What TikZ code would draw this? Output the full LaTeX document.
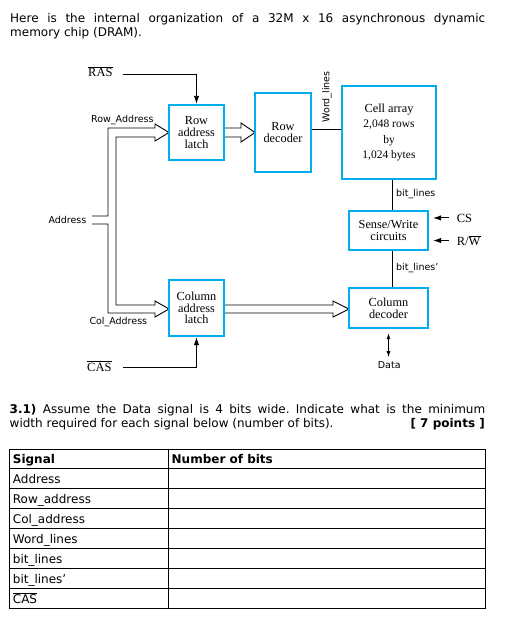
\documentclass[tikz,border=0pt]{standalone}
\usepackage{fontspec}
\setmainfont{DejaVu Sans}
\newfontfamily\serf{Liberation Serif}
\usetikzlibrary{arrows.meta,calc}
\definecolor{boxcyan}{RGB}{0,174,239}
\frenchspacing
\begin{document}
\begin{tikzpicture}[x=1pt,y=-1pt,
  blk/.style={draw=boxcyan,line width=2.4pt,fill=white,inner sep=0pt,align=center,font=\serf\fontsize{12.3}{11.7}\selectfont},
  lbl/.style={inner sep=0pt,font=\fontsize{9.5}{11}\selectfont},
  sig/.style={inner sep=0pt,font=\serf\fontsize{12.5}{14}\selectfont},
  body/.style={inner sep=0pt,font=\fontsize{12}{14}\selectfont},
  wire/.style={line width=0.9pt},
  arr/.style={wire,-{Latex[length=8pt,width=5.5pt]}},
  bus/.style={line width=0.9pt,line join=miter},
  grid/.style={line width=1.1pt}]
\useasboundingbox[fill=white] (0,0) rectangle (511,643);

% intro text
\node[body,anchor=base west] (t1) at (10,22) {\makebox[475pt][s]{Here is the internal organization of a 32M x 16 asynchronous dynamic}};
\node[body,anchor=base west] (t2) at (10,36) {memory chip (DRAM).};

% buses (drawn first)
\draw[bus] (92,216) -- (108,216) -- (108,128) -- (155,128) -- (155,124) -- (169,132.5) -- (155,141) -- (155,137) -- (116,137) -- (116,305) -- (155,305) -- (155,301) -- (169,309) -- (155,317) -- (155,313) -- (108,313) -- (108,224) -- (92,224);
\draw[bus] (224,128) -- (241,128) -- (241,123) -- (255,132.5) -- (241,142) -- (241,137) -- (224,137);
\draw[bus] (224,305) -- (333,305) -- (333,301) -- (349,309) -- (333,317) -- (333,313) -- (224,313);

% blocks
\node[blk,minimum width=55,minimum height=55] (rlatch) at (196.5,132.5) {Row\\address\\latch};
\node[blk,minimum width=56,minimum height=79] (rdec) at (283,132.5) {Row\\decoder};
\node[blk,minimum width=94,minimum height=93,font=\serf\fontsize{11.5}{15.5}\selectfont] (cell) at (389,132.5) {{\fontsize{12.3}{15.5}\selectfont Cell array}\\2,048 rows\\by\\1,024 bytes};
\node[blk,minimum width=79,minimum height=39] (sw) at (388.5,230.5) {Sense/Write\\circuits};
\node[blk,minimum width=79,minimum height=40] (cdec) at (388.5,308) {Column\\decoder};
\node[blk,minimum width=55,minimum height=56] (clatch) at (196.5,308) {Column\\address\\latch};

% labels
\node[sig,anchor=base west] (ras) at (88,76.7) {$\overline{\hbox{\serf RAS}}$};
\node[sig,anchor=base west] (cas) at (87,371) {$\overline{\hbox{\serf CAS}}$};
\node[lbl,anchor=base west] (rowa) at (91,122) {Row\_Address};
\node[lbl,anchor=base west] (addr) at (48.3,223) {Address};
\node[lbl,anchor=base west] (cola) at (89.3,324) {Col\_Address};
\node[lbl,rotate=90] (wl) at (327,97) {Word\_lines};
\node[lbl,anchor=base west] (bl) at (396,196) {bit\_lines};
\node[lbl,anchor=base west] (blp) at (396,270) {bit\_lines'};
\node[lbl,anchor=base west] (data) at (377.7,368) {Data};
\node[sig,anchor=base west] (cs) at (456.7,222) {CS};
\node[sig,anchor=base west] (rw) at (456.7,245.5) {R/$\overline{\hbox{\serf W}}$};

% control wires
\coordinate (rasc) at (123,74);
\coordinate (casc) at (123,367);
\draw[arr] (rasc) -| (rlatch.north);
\draw[arr] (casc) -| (clatch.south);
\draw[wire] ([yshift=3pt]rdec.east) -- ([yshift=3pt]rdec.east -| cell.west);
\draw[wire] ($(cell.south)+(3,0)$) -- ($(sw.north)+(3.5,0)$);
\draw[wire] ($(sw.south)+(3.5,0)$) -- ($(cdec.north)+(3.5,0)$);
\draw[arr] ($(cs.west)+(-8,0)$) -- ($(sw.east |- cs.west)+(4,0)$);
\draw[arr] ($(rw.west)+(-8,0)$) -- ($(sw.east |- rw.west)+(4,0)$);
\draw[wire,{Latex[length=6pt,width=4pt]}-{Latex[length=6pt,width=4pt]}] ($(cdec.south)+(0,4)$) -- ($(cdec.south)+(0,28)$);

% question
\node[body,anchor=base west] (q1) at (9.5,413) {\makebox[475.5pt][s]{\textbf{3.1)} Assume the Data signal is 4 bits wide. Indicate what is the minimum}};
\node[body,anchor=base west] (q2) at (9.5,427) {width required for each signal below (number of bits).};
\node[body,anchor=base east] (pts) at (485,427) {\textbf{[ 7 points ]}};

% table
\foreach \yy in {449.3,468.3,488.3,508.3,528.3,548.3,568.3,588.3,608.3}
  \draw[grid] (9.3,\yy) -- (485.5,\yy);
\foreach \xx in {9.3,168.3,485.5}
  \draw[grid] (\xx,449.3) -- (\xx,608.3);
\node[body,anchor=base west] (h1) at (12.7,463.5) {\textbf{Signal}};
\node[body,anchor=base west] (h2) at (171.5,463.5) {\textbf{Number of bits}};
\node[body,anchor=base west] (r1) at (12.7,483.3) {Address};
\node[body,anchor=base west] (r2) at (12.7,503.3) {Row\_address};
\node[body,anchor=base west] (r3) at (12.7,523.3) {Col\_address};
\node[body,anchor=base west] (r4) at (12.7,543.3) {Word\_lines};
\node[body,anchor=base west] (r5) at (12.7,563.3) {bit\_lines};
\node[body,anchor=base west] (r6) at (12.7,583.3) {bit\_lines'};
\node[body,anchor=base west] (r7) at (12.7,603.3) {$\overline{\hbox{CAS}}$};
\end{tikzpicture}
\end{document}
